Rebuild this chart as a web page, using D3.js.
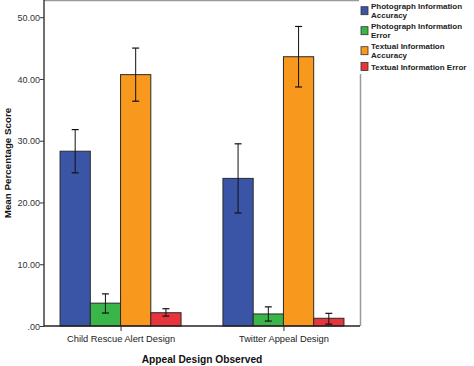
<!DOCTYPE html>
<html><head><meta charset="utf-8">
<script src="https://cdn.jsdelivr.net/npm/d3@7"></script>
<style>body{margin:0;background:#fff}svg{display:block}</style>
</head><body>
<script>
const categories = ["Child Rescue Alert Design", "Twitter Appeal Design"];
const seriesNames = ["Photograph Information Accuracy", "Photograph Information Error", "Textual Information Accuracy", "Textual Information Error"];
const legendLines = [["Photograph Information", "Accuracy"], ["Photograph Information", "Error"], ["Textual Information", "Accuracy"], ["Textual Information Error"]];
const colors = ["#3b55a6", "#39b54a", "#f8991d", "#e8343b"];
const means = [[28.3, 3.7, 40.7, 2.15], [23.9, 1.95, 43.6, 1.25]];
const errLow = [[24.8, 2.1, 36.4, 1.6], [18.3, 0.8, 38.7, 0.3]];
const errHigh = [[31.8, 5.2, 45.0, 2.8], [29.5, 3.1, 48.5, 2.05]];
const yTicks = [0, 10, 20, 30, 40, 50];

const W = 474, H = 366;
const svg = d3.select("body").append("svg").attr("width", W).attr("height", H);
const font = "'Liberation Sans',Arial,sans-serif";

const y = d3.scaleLinear().domain([0, 50]).range([326, 17.2]);
const x = d3.scalePoint().domain(categories).range([44, 360]).padding(0.47);
const xs = d3.scaleBand().domain(seriesNames).range([-60.5, 60.5]).padding(0);

// frame (top & right gray)
svg.append("path").attr("d", `M44,0.5H360.5V326`).attr("fill", "none").attr("stroke", "#9a9a9a").attr("stroke-width", 1.5);

// bars
categories.forEach((c, ci) => {
  const g = svg.append("g").attr("transform", `translate(${x(c)},0)`);
  seriesNames.forEach((s, si) => {
    g.append("rect").attr("x", xs(s)).attr("width", xs.bandwidth())
      .attr("y", y(means[ci][si])).attr("height", y(0) - y(means[ci][si]))
      .attr("fill", colors[si]).attr("stroke", "#2a2a2a").attr("stroke-width", 1);
  });
  seriesNames.forEach((s, si) => {
    const cx = xs(s) + xs.bandwidth() / 2;
    const y1 = y(errHigh[ci][si]), y2 = y(errLow[ci][si]);
    g.append("line").attr("x1", cx).attr("x2", cx).attr("y1", y1).attr("y2", y2).attr("stroke", "#111").attr("stroke-width", 1);
    [y1, y2].forEach(yy => g.append("line").attr("x1", cx - 3.5).attr("x2", cx + 3.5).attr("y1", yy).attr("y2", yy).attr("stroke", "#111").attr("stroke-width", 1.2));
  });
});

// y axis
const yAxis = svg.append("g").attr("transform", "translate(44,0)")
  .call(d3.axisLeft(y).tickValues(yTicks).tickSize(4).tickSizeOuter(0)
    .tickFormat(d => d === 0 ? ".00" : d3.format(".2f")(d)));
yAxis.select(".domain").attr("d", "M0,0V326").attr("stroke", "#222").attr("stroke-width", 1.3);
yAxis.selectAll(".tick line").attr("stroke", "#333");
yAxis.selectAll("text").attr("font-family", font).attr("font-size", 9).attr("fill", "#333").attr("x", -4).attr("dy", "0.35em");

// x axis
const xAxis = svg.append("g").attr("transform", "translate(0,326)")
  .call(d3.axisBottom(x).tickSize(5).tickSizeOuter(0));
xAxis.select(".domain").attr("d", "M44,0H360").attr("stroke", "#222").attr("stroke-width", 1.3);
xAxis.selectAll(".tick line").attr("stroke", "#333");
xAxis.selectAll("text").attr("font-family", font).attr("font-size", 9.3).attr("fill", "#222").attr("y", 9).attr("dy", "0.71em");

// axis titles
svg.append("text").attr("x", 202).attr("y", 363).attr("text-anchor", "middle")
  .attr("font-family", font).attr("font-weight", "bold").attr("font-size", 10.2).attr("fill", "#111")
  .text("Appeal Design Observed");
svg.append("text").attr("transform", "translate(11,163) rotate(-90)").attr("text-anchor", "middle")
  .attr("font-family", font).attr("font-weight", "bold").attr("font-size", 9.8).attr("fill", "#111")
  .text("Mean Percentage Score");

// legend
const legBase = [[9, 18.4], [29, 38.4], [49, 58.4], [69.5]];
const leg = svg.append("g");
leg.append("rect").attr("x", 359).attr("y", 0).attr("width", 115).attr("height", 74).attr("fill", "#fff");
seriesNames.forEach((s, i) => {
  const lines = legendLines[i];
  const b = legBase[i];
  const mid = (b[0] + b[b.length - 1]) / 2 - 3;
  leg.append("rect").attr("x", 361).attr("y", mid - 4).attr("width", 7).attr("height", 8)
    .attr("fill", colors[i]).attr("stroke", "#333").attr("stroke-width", 0.8);
  lines.forEach((t, li) => {
    leg.append("text").attr("x", 371).attr("y", b[li])
      .attr("font-family", font).attr("font-weight", "bold").attr("font-size", 8).attr("fill", "#222").text(t);
  });
});
</script>
</body></html>
